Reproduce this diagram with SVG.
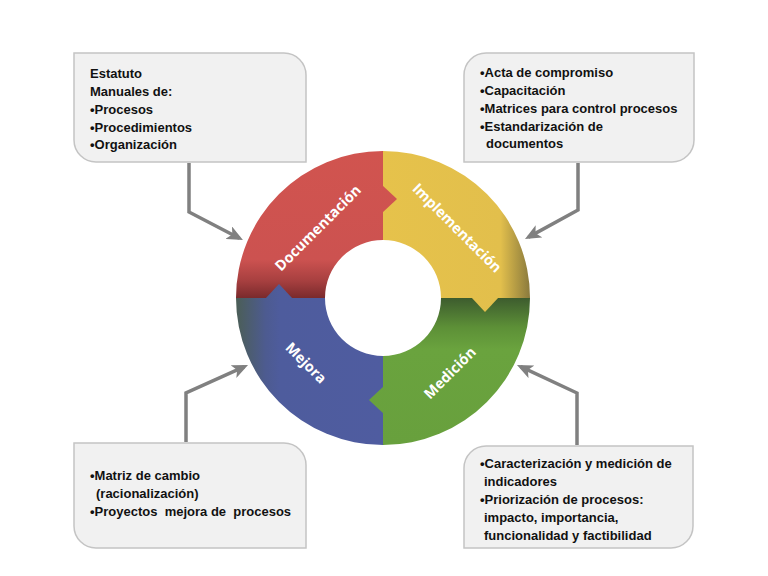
<svg xmlns="http://www.w3.org/2000/svg" width="768" height="576" viewBox="0 0 768 576">
<style>
.box{fill:#f1f1f1;stroke:#c4c4c4;stroke-width:1.5}
.bt{font-family:"Liberation Sans",Arial,sans-serif;font-weight:bold;font-size:13px;fill:#111}
.lbl{font-family:"Open Sans","Liberation Sans",sans-serif;font-weight:bold;font-size:14.5px;fill:#fff;text-anchor:middle}
.con{fill:none;stroke:#808080;stroke-width:3.5;marker-end:url(#ah)}
</style>
<defs>
<marker id="ah" markerUnits="userSpaceOnUse" markerWidth="16" markerHeight="14" viewBox="0 0 16 14" refX="12" refY="7" orient="auto">
<path d="M0,0 L16,7 L0,14 L4,7 Z" fill="#808080"/>
</marker>
<linearGradient id="gRed" gradientUnits="userSpaceOnUse" x1="0" y1="151" x2="0" y2="298">
<stop offset="0" stop-color="#d1544f"/><stop offset="0.74" stop-color="#cc5250"/><stop offset="0.88" stop-color="#a84040"/><stop offset="1" stop-color="#7a2a2c"/>
</linearGradient>
<linearGradient id="gYel" gradientUnits="userSpaceOnUse" x1="383" y1="0" x2="530" y2="0">
<stop offset="0" stop-color="#e6c24b"/><stop offset="0.8" stop-color="#e2bf4c"/><stop offset="1" stop-color="#8a7a3d"/>
</linearGradient>
<linearGradient id="gGrn" gradientUnits="userSpaceOnUse" x1="0" y1="298" x2="0" y2="445">
<stop offset="0" stop-color="#3d5c2e"/><stop offset="0.2" stop-color="#5d9037"/><stop offset="0.35" stop-color="#6aa33e"/><stop offset="1" stop-color="#68a03d"/>
</linearGradient>
<linearGradient id="gBlu" gradientUnits="userSpaceOnUse" x1="236" y1="0" x2="383" y2="0">
<stop offset="0" stop-color="#4b5e56"/><stop offset="0.2" stop-color="#4d5b90"/><stop offset="0.3" stop-color="#4e5c9d"/><stop offset="1" stop-color="#4f5ca0"/>
</linearGradient>
</defs>
<rect width="768" height="576" fill="#fff"/>

<g id="ring">
<g id="documentacion">
<path d="M236,298 A147,147 0 0 1 383,151 V240 A58,58 0 0 0 325,298 Z" fill="url(#gRed)"/>
</g>
<g id="implementacion">
<path d="M383,151 A147,147 0 0 1 530,298 H441 A58,58 0 0 0 383,240 Z" fill="url(#gYel)"/>
</g>
<g id="medicion">
<path d="M530,298 A147,147 0 0 1 383,445 V356 A58,58 0 0 0 441,298 Z" fill="url(#gGrn)"/>
</g>
<g id="mejora">
<path d="M383,445 A147,147 0 0 1 236,298 H325 A58,58 0 0 0 383,356 Z" fill="url(#gBlu)"/>
</g>
<polygon points="382,185 397,199 382,213" fill="url(#gRed)"/>
<polygon points="471,297 485,312 499,297" fill="url(#gYel)"/>
<polygon points="384,386 369,400 384,414" fill="url(#gGrn)"/>
<polygon points="265,299 279,284 293,299" fill="url(#gBlu)"/>
<text class="lbl" transform="translate(318,228) rotate(-45)" x="0" y="5">Documentación</text>
<text class="lbl" transform="translate(457,228) rotate(45)" x="0" y="5">Implementación</text>
<text class="lbl" transform="translate(450,373) rotate(-45)" x="0" y="5">Medición</text>
<text class="lbl" transform="translate(306,363) rotate(45)" x="0" y="5">Mejora</text>
</g>

<g id="box-tl">
<path class="box" d="M74,53 H284 A22,22 0 0 1 306,75 V162 H96 A22,22 0 0 1 74,140 Z"/>
<text class="bt" x="90" y="78">Estatuto</text>
<text class="bt" x="90" y="96">Manuales de:</text>
<text class="bt" x="90" y="114">•Procesos</text>
<text class="bt" x="90" y="132">•Procedimientos</text>
<text class="bt" x="90" y="149">•Organización</text>
</g>

<g id="box-tr">
<path class="box" d="M486,53 H694 V140 A22,22 0 0 1 672,162 H464 V75 A22,22 0 0 1 486,53 Z"/>
<text class="bt" x="480" y="77">•Acta de compromiso</text>
<text class="bt" x="480" y="95">•Capacitación</text>
<text class="bt" x="480" y="113">•Matrices para control procesos</text>
<text class="bt" x="480" y="131">•Estandarización de</text>
<text class="bt" x="486" y="148">documentos</text>
</g>

<g id="box-bl">
<path class="box" d="M74,443 H284 A22,22 0 0 1 306,465 V548 H96 A22,22 0 0 1 74,526 Z"/>
<text class="bt" x="90" y="480">•Matriz de cambio</text>
<text class="bt" x="96" y="498">(racionalización)</text>
<text class="bt" x="90" y="516" xml:space="preserve">•Proyectos  mejora de  procesos</text>
</g>

<g id="box-br">
<path class="box" d="M486,446 H693 V526 A22,22 0 0 1 671,548 H464 V468 A22,22 0 0 1 486,446 Z"/>
<text class="bt" x="480" y="468">•Caracterización y medición de</text>
<text class="bt" x="484" y="486">indicadores</text>
<text class="bt" x="480" y="504">•Priorización de procesos:</text>
<text class="bt" x="484" y="522">impacto, importancia,</text>
<text class="bt" x="484" y="540">funcionalidad y factibilidad</text>
</g>

<g id="connectors">
<polyline class="con" points="189,163 189,212 239.4,238.2"/>
<polyline class="con" points="578,163 578,210 528.5,237.1"/>
<polyline class="con" points="186,442 186,393 244.4,366.6"/>
<polyline class="con" points="577,445 577,393 520.6,366.7"/>
</g>
</svg>
